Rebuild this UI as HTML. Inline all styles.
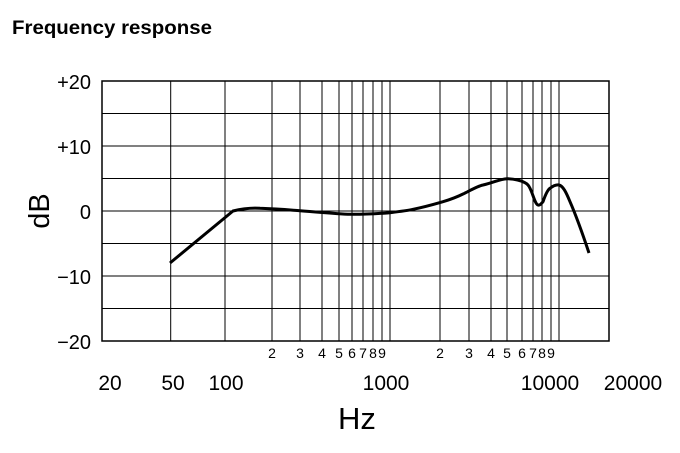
<!DOCTYPE html>
<html><head><style>body{margin:0;background:#fff}svg{display:block}</style></head><body>
<svg width="680" height="453" xmlns="http://www.w3.org/2000/svg" font-family="Liberation Sans, sans-serif">
<text x="12" y="34" font-size="19" font-weight="bold" textLength="200" lengthAdjust="spacingAndGlyphs">Frequency response</text>
<g stroke="#000" stroke-width="1" fill="none">
<path d="M102 113.5H609M102 146H609M102 178.5H609M102 211H609M102 243.5H609M102 276H609M102 308.5H609"/>
<path d="M170.7 81V341M225 81V341M272 81V341M300 81V341M322 81V341M339 81V341M352 81V341M363 81V341M373 81V341M382 81V341M390 81V341M440 81V341M469 81V341M491 81V341M507 81V341M522 81V341M533 81V341M542 81V341M551 81V341M559 81V341"/>
<rect x="102" y="81" width="507" height="260" stroke-width="1.5"/>
<path stroke-width="3" stroke-linejoin="round" d="M170 263 L233 211 C245 208 255 208 260 208.3 C280 209 290 210 300 210.7 C325 212.5 340 214.3 353 214.3 C370 214.3 380 213.5 390 212.7 C400 211.5 410 210 413 209.3 C425 207 435 204 443 201.7 C452 199 458 196.5 463 194 C472 189.5 478 186 483 185 C495 182 500 179 507 178.7 C515 179 520 180 525 182.7 C528 184 529 186 530 188.3 C533 194 535 204 538 205 C540 205.5 541 204 543 201.7 C546 193 548 189.5 550 188.3 C553 186 556 184.5 559 185 C563 186 566 192 570 201.7 C578 220 584 238 589 253"/>
</g>
<g font-size="20" text-anchor="end">
<text x="91" y="89">+20</text><text x="91" y="154">+10</text><text x="91" y="219">0</text><text x="91" y="284">−10</text><text x="91" y="349">−20</text>
</g>
<text transform="translate(49,211) rotate(-90)" font-size="29" text-anchor="middle">dB</text>
<g font-size="14" text-anchor="middle">
<text x="272" y="358">2</text><text x="300" y="358">3</text><text x="322" y="358">4</text><text x="339" y="358">5</text><text x="352" y="358">6</text><text x="363" y="358">7</text><text x="373" y="358">8</text><text x="382" y="358">9</text>
<text x="440" y="358">2</text><text x="469" y="358">3</text><text x="491" y="358">4</text><text x="507" y="358">5</text><text x="522" y="358">6</text><text x="533" y="358">7</text><text x="542" y="358">8</text><text x="551" y="358">9</text>
</g>
<g font-size="21" text-anchor="middle">
<text x="110" y="390">20</text><text x="173" y="390">50</text><text x="226" y="390">100</text><text x="386" y="390">1000</text><text x="550" y="390">10000</text><text x="633" y="390">20000</text>
</g>
<text x="357" y="429" font-size="31" text-anchor="middle">Hz</text>
</svg>
</body></html>
